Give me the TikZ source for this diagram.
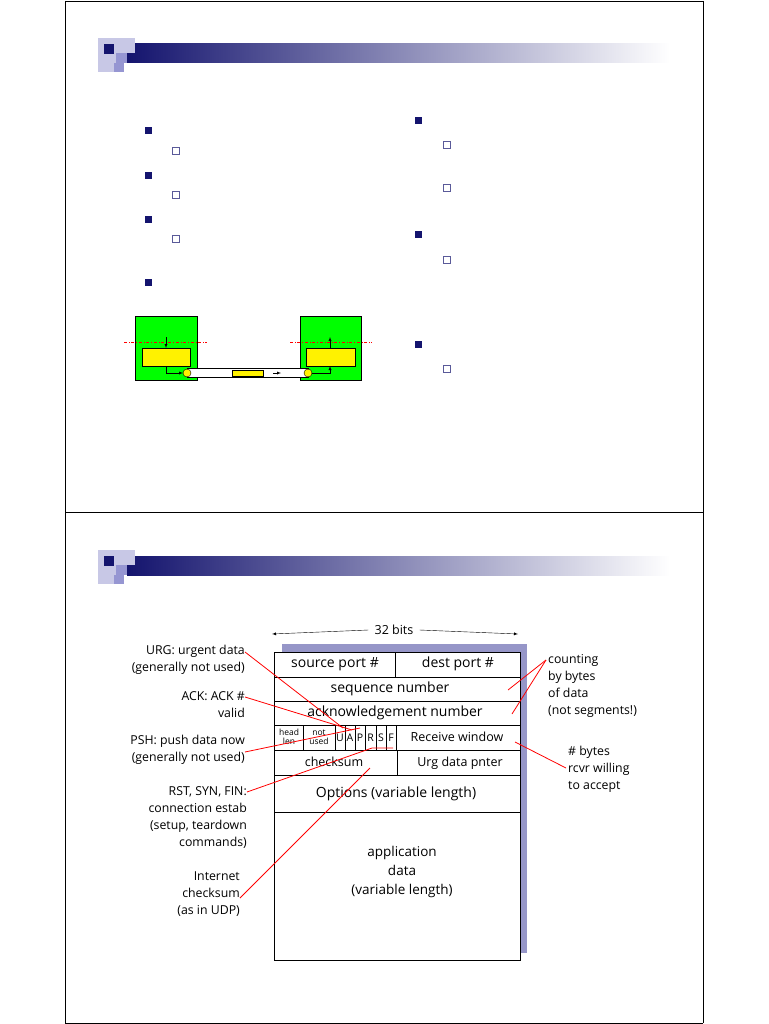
\documentclass[tikz,border=0pt]{standalone}
\usepackage{fontspec}
\setmainfont{Open Sans}
\begin{document}
\begin{tikzpicture}[x=1pt,y=-1pt,
  nb/.style={fill=navy,draw=none},
  hb/.style={draw=navy!70,line width=0.5pt,fill=white},
  fld/.style={font=\fontsize{14}{15}\selectfont,inner sep=0pt},
  fld2/.style={font=\fontsize{12.5}{14}\selectfont,inner sep=0pt},
  lbl/.style={font=\fontsize{12.3}{17}\selectfont,inner sep=0pt},
  rl/.style={red,line width=0.8pt}]
\definecolor{navy}{RGB}{20,20,110}
\definecolor{sq1}{RGB}{200,200,230}
\definecolor{sq2}{RGB}{150,150,210}
\definecolor{shadow}{RGB}{150,150,200}
\useasboundingbox (0,0) rectangle (768,1024);
\draw[line width=0.6pt] (65,1) -- (65,1023) (703,1) -- (703,1023) (65,1023)--(703,1023) (65,1)--(703,1) (65,512)--(703,512);
% headers
\foreach \dy in {0,512}{
  \begin{scope}[yshift=-\dy]
  \shade[left color=navy,right color=white] (127,44) rectangle (670,63);
  \fill[sq1] (98,38) rectangle (116,72);
  \fill[sq1] (116,38) rectangle (135,53);
  \fill[sq2] (116,53) rectangle (127,63);
  \fill[sq2] (114,63) rectangle (124,72);
  \fill[navy] (104,44) rectangle (114,54);
  \end{scope}}
% bullets
\foreach \y in {127,172,216,279}{\fill[navy] (145,\y) rectangle +(7,7);}
\foreach \y in {147,191,235}{\draw[hb] (172,\y) rectangle +(7,7);}
\foreach \y in {117,231,341}{\fill[navy] (415,\y) rectangle +(7,7);}
\foreach \y in {141,184,256,365}{\draw[hb] (443,\y) rectangle +(7,7);}
% sockets diagram
\draw[fill=green] (135,316) rectangle (197,380);
\draw[fill=green] (300,316) rectangle (361,380);
\draw[fill=white] (187,368) rectangle (308,377);
\draw[fill=yellow] (142,348) rectangle (190,366);
\draw[fill=yellow] (306,348) rectangle (355,366);
\draw[red,dash dot,line width=0.6pt] (124,342) -- (207,342) (290,342) -- (372,342);
\draw[fill=yellow] (232,370) rectangle (263,376);
\draw[-latex] (273,373) -- (281,373);
\draw[-latex] (166,337) -- (166,348);
\draw[-latex] (166,366) -- (166,373) -- (183,373);
\draw[-latex] (312,373) -- (330,373) -- (330,366);
\draw[-latex] (330,348) -- (330,337);
\draw[fill=yellow] (187,373) circle (4);
\draw[fill=yellow] (308,373) circle (4);
% TCP header
\fill[shadow] (282,644) rectangle (527,953);
\draw[fill=white,line width=0.8pt] (274,652) rectangle (520,960);
\draw[line width=0.8pt] (274,677)--(520,677) (274,701)--(520,701) (274,725)--(520,725) (274,750)--(520,750) (274,775)--(520,775) (274,812)--(520,812)
 (395,652)--(395,677) (397,750)--(397,775);
\draw[line width=0.5pt] (303,725)--(303,750) (335,725)--(335,750) (345,725)--(345,750) (355,725)--(355,750) (365,725)--(365,750) (376,725)--(376,750) (386,725)--(386,750) (396,725)--(396,750);
\node[fld] (sp) at (335,664) {source port \#};
\node[fld] (dp) at (458,664) {dest port \#};
\node[fld] (seq) at (390,689) {sequence number};
\node[fld] (ack) at (395,713) {acknowledgement number};
\node[font=\fontsize{8.5}{9}\selectfont,align=center,inner sep=0pt] (hl) at (289,737) {head\\len};
\node[font=\fontsize{8.5}{9}\selectfont,align=center,inner sep=0pt] (nu) at (319,737) {not\\used};
\foreach \l/\x in {U/340,A/350,P/360,R/370.5,S/381,F/391}{\node[font=\fontsize{10.5}{11}\selectfont,inner sep=0pt] (f\l) at (\x,738) {\l};}
\node[fld2] (rw) at (457,737) {Receive window};
\node[fld2] (cs) at (334,762) {checksum};
\node[fld2] (ud) at (460,763) {Urg data pnter};
\node[fld] (opt) at (396,794) {Options (variable length)};
\node[fld,align=center,font=\fontsize{13.5}{19}\selectfont] (app) at (402,872) {application\\data\\(variable length)};
\node[fld2,fill=white,inner xsep=6pt] (bits) at (394,630) {32 bits};
\coordinate (bl) at (272,634); \coordinate (br) at (518,634);
\draw[-latex] (bits.west) -- (bl);
\draw[-latex] (bits.east) -- (br);
% labels
\node[lbl,align=right,anchor=east] (urg) at (245,660) {URG: urgent data\\(generally not used)};
\node[lbl,align=right,anchor=east] (ackl) at (245,705) {ACK: ACK \#\\valid};
\node[lbl,align=right,anchor=east] (psh) at (245,750) {PSH: push data now\\(generally not used)};
\node[lbl,align=right,anchor=east] (rst) at (247,818) {RST, SYN, FIN:\\connection estab\\(setup, teardown\\commands)};
\node[lbl,align=right,anchor=east] (ic) at (240,894) {Internet\\checksum\\(as in UDP)};
\node[lbl,align=left,anchor=west] (cnt) at (548,686) {counting\\by bytes\\of data\\(not segments!)};
\node[lbl,align=left,anchor=west] (nb2) at (568,769) {\# bytes\\rcvr willing\\to accept};
\coordinate (pu) at (343,728); \coordinate (pa) at (352,730); \coordinate (pp) at (360,728);
\coordinate (pr) at (372,748); \coordinate (pr2) at (393,748); \coordinate (pc) at (370,768);
\coordinate (ps) at (508,690); \coordinate (pk) at (512,714); \coordinate (pw) at (515,742);
\draw[rl] (245,652) -- (pu);
\draw[rl] (245,697) -- (pa);
\draw[rl] (245,752) -- (pp);
\draw[rl] (247,792) -- (pr) -- (pr2);
\draw[rl] (240,898) -- (pc);
\draw[rl] (546,660) -- (ps);
\draw[rl] (546,660) -- (pk);
\draw[rl] (566,768) -- (pw);
\end{tikzpicture}
\end{document}
